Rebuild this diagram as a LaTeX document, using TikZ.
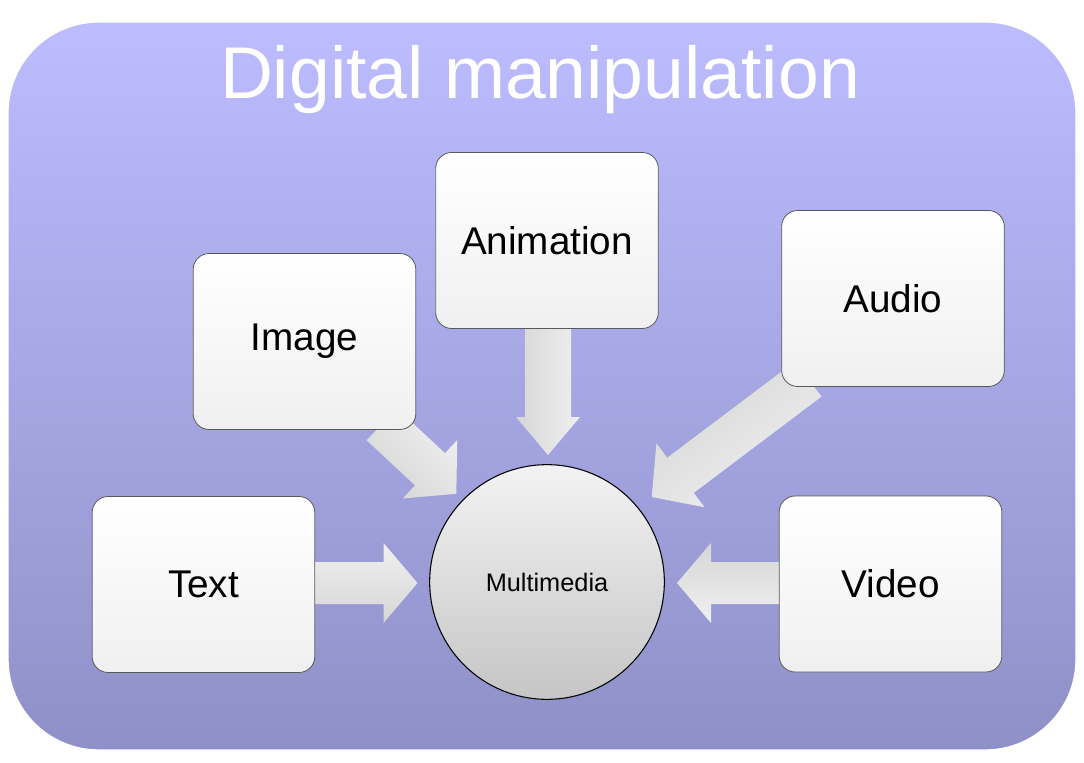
\documentclass[tikz,border=0pt]{standalone}
\usepackage{fontspec}
\setmainfont{Liberation Sans}
\usetikzlibrary{shapes.geometric}
\newcommand{\blockarr}[7]{% cx cy angle length shaft head headlen
  \begin{scope}[shift={(#1,#2)},rotate=#3]
  \shade[top color=gray!12,bottom color=gray!32,shading angle=#3]
   (-#4/2,-#5/2) -- (#4/2-#7,-#5/2) -- (#4/2-#7,-#6/2) -- (#4/2,0) --
   (#4/2-#7,#6/2) -- (#4/2-#7,#5/2) -- (-#4/2,#5/2) -- cycle;
  \end{scope}}
\begin{document}
\begin{tikzpicture}[x=0.75pt,y=-0.75pt,
  card/.style={draw=gray!70!black,line width=0.6pt,rounded corners=12pt,
    top color=white,bottom color=gray!12,minimum width=167pt,minimum height=132pt,
    font=\fontsize{29}{31}\selectfont,inner sep=0pt}]
\useasboundingbox (0,0) rectangle (1084,763);
\shade[rounded corners=68pt,top color={rgb,255:red,188;green,188;blue,255},
  bottom color={rgb,255:red,144;green,144;blue,200},draw=white,line width=1pt]
  (8,22) rectangle (1076,750);
\node[text=white,font=\fontsize{55}{58}\selectfont] (title) at (540,80) {Digital manipulation};
\blockarr{366}{583}{0}{103}{42}{80}{34}
\blockarr{728}{583}{180}{102}{42}{80}{34}
\blockarr{548}{392}{-90}{126}{46}{64}{38}
\blockarr{419}{459}{-43}{102}{44}{80}{36}
\blockarr{730}{438}{-143}{196}{44}{80}{36}
\node[card] (image) at (304.5,341.5) {Image};
\node[card] (anim) at (547,240.5) {Animation};
\node[card] (audio) at (893,298.5) {Audio};
\node[card] (text) at (203.5,584.5) {Text};
\node[card] (video) at (890.5,584) {Video};
\node[circle,draw=black,line width=0.8pt,top color=gray!10,bottom color=gray!45,
  minimum size=176pt,font=\fontsize{19}{21}\selectfont] (mm) at (547,582) {Multimedia};
\end{tikzpicture}
\end{document}
